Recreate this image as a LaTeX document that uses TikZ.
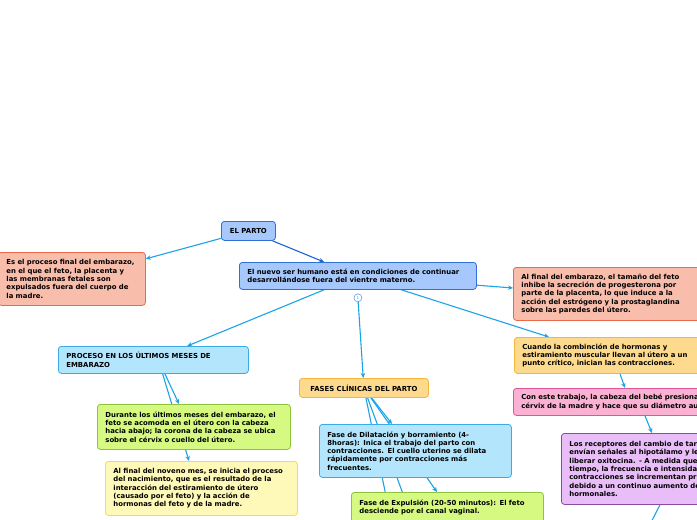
\documentclass[tikz,border=0pt]{standalone}
\usepackage{fontspec}
\newfontfamily\mapfont{DejaVu Sans}
\usepackage{tikz}
\usetikzlibrary{positioning, calc, shapes, arrows.meta, backgrounds}

\definecolor{bluefill}{HTML}{A6C8FC}
\definecolor{blueline}{HTML}{2F6FD6}
\definecolor{salmonfill}{HTML}{F9BDAB}
\definecolor{salmonline}{HTML}{E86A4A}
\definecolor{cyanfill}{HTML}{B3E5FC}
\definecolor{cyanline}{HTML}{3BABE8}
\definecolor{greenfill}{HTML}{D5F981}
\definecolor{greenline}{HTML}{8CC43C}
\definecolor{yellowfill}{HTML}{FFF9B9}
\definecolor{yellowline}{HTML}{F2DD4F}
\definecolor{orangefill}{HTML}{FDDA8E}
\definecolor{orangeline}{HTML}{F4B73E}
\definecolor{pinkfill}{HTML}{FBB1D3}
\definecolor{pinkline}{HTML}{E0559A}
\definecolor{purplefill}{HTML}{E9BEF8}
\definecolor{purpleline}{HTML}{8B4C9E}
\definecolor{linkblue}{HTML}{1AA3E8}
\definecolor{darklink}{HTML}{1864D6}

\tikzset{
  topic/.style={draw, rounded corners=3pt, line width=0.8pt, anchor=north west,
    align=left, inner xsep=8pt, inner ysep=2pt,
    font=\mapfont\bfseries\fontsize{6.9}{8.3}\selectfont},
  link/.style={draw=linkblue, line width=1.1pt, -{Stealth[length=5pt,width=4.5pt]}},
}

\begin{document}
\begin{tikzpicture}[x=1pt,y=-1pt]
\path[use as bounding box] (0,0) rectangle (697,520);
\clip (0,0) rectangle (697,520);

\node[topic, fill=bluefill, draw=blueline, minimum width=54pt, minimum height=19pt, align=center] (parto) at (221,221) {EL PARTO};
\node[topic, fill=salmonfill, draw=salmonline, text width=131pt, minimum height=53pt] (procdef) at (-2,252)
  {Es el proceso final del embarazo,\\ en el que el feto, la placenta y\\ las membranas fetales son\\ expulsados fuera del cuerpo de\\ la madre.};
\node[topic, fill=bluefill, draw=blueline, text width=221pt, minimum height=27pt] (nuevo) at (239,262)
  {El nuevo ser humano está en condiciones de continuar\\ desarrollándose fuera del vientre materno.};
\node[circle, draw=blueline!70, fill=white, line width=0.6pt, inner sep=0pt, minimum size=8pt,
  text=blueline!70, font=\mapfont\fontsize{4}{4}\selectfont] (fold) at ($(nuevo.south)+(0,8)$) {1};

\node[topic, fill=salmonfill, draw=salmonline, text width=230pt, minimum height=53pt] (finalemb) at (513,267)
  {Al final del embarazo, el tamaño del feto\\ inhibe la secreción de progesterona por\\ parte de la placenta, lo que induce a la\\ acción del estrógeno y la prostaglandina\\ sobre las paredes del útero.};
\node[topic, fill=orangefill, draw=orangeline, text width=230pt, minimum height=36pt] (cuando) at (514,337)
  {Cuando la combinción de hormonas y\\ estiramiento muscular llevan al útero a un\\ punto crítico, inician las contracciones.};
\node[topic, fill=pinkfill, draw=pinkline, text width=230pt, minimum height=27pt] (coneste) at (513,388)
  {Con este trabajo, la cabeza del bebé presiona\\ cérvix de la madre y hace que su diámetro au};
\node[topic, fill=purplefill, draw=purpleline, text width=230pt, minimum height=71pt] (receptores) at (561,433)
  {Los receptores del cambio de tar\\ envían señales al hipotálamo y le\\ liberar oxitocina. - A medida que\\ tiempo, la frecuencia e intensida\\ contracciones se incrementan pr\\ debido a un continuo aumento de\\ hormonales.};

\node[topic, fill=cyanfill, draw=cyanline, text width=174pt, minimum height=27pt] (proceso) at (58,346)
  {PROCESO EN LOS ÚLTIMOS MESES DE\\ EMBARAZO};
\node[topic, fill=greenfill, draw=greenline, text width=177pt, minimum height=45pt] (durante) at (97,404)
  {Durante los últimos meses del embarazo, el\\ feto se acomoda en el útero con la cabeza\\ hacia abajo; la corona de la cabeza se ubica\\ sobre el cérvix o cuello del útero.};
\node[topic, fill=yellowfill, draw=yellowline, text width=176pt, minimum height=54pt] (noveno) at (105,461)
  {Al final del noveno mes, se inicia el proceso\\ del nacimiento, que es el resultado de la\\ interacción del estiramiento de útero\\ (causado por el feto) y la acción de\\ hormonas del feto y de la madre.};

\node[topic, fill=orangefill, draw=orangeline, minimum width=129pt, minimum height=19pt, align=center] (fases) at (299,378) {FASES CLÍNICAS DEL PARTO};
\node[topic, fill=cyanfill, draw=cyanline, text width=176pt, minimum height=53pt] (dilatacion) at (319,424)
  {Fase de Dilatación y borramiento (4-\\ 8horas): Inica el trabajo del parto con\\ contracciones. El cuello uterino se dilata\\ rápidamente por contracciones más\\ frecuentes.};
\node[topic, fill=greenfill, draw=greenline, text width=176pt, minimum height=30pt] (expulsion) at (351,492)
  {Fase de Expulsión (20-50 minutos): El feto\\ desciende por el canal vaginal.};

\coordinate (belowrec) at (642,540);
\coordinate (belowfasesa) at (395,540);
\coordinate (belowfasesb) at (420,540);

% connectors behind the topics
\begin{scope}[on background layer]
\clip (0,0) rectangle (697,520);
\draw[link, draw=darklink] (parto) -- (nuevo);
\draw[link] (parto) -- (procdef);
\draw[link] (nuevo) -- (proceso);
\draw[link] (fold) -- (fases);
\draw[link] (nuevo) -- ([xshift=35pt]cuando.north west);
\draw[link] (nuevo) -- ([yshift=-21pt]finalemb.north west);
\draw[link] ([xshift=106pt]cuando.south west) -- ([xshift=112pt]coneste.north west);
\draw[link] ([xshift=132pt]coneste.south west) -- ([xshift=91pt]receptores.north west);
\draw[link] ([xshift=99pt]receptores.south west) -- (belowrec);
\draw[link] ([xshift=5pt]proceso.center) -- ([xshift=82pt]durante.north west);
\draw[link] ([xshift=5pt]proceso.center) -- ([xshift=84pt]noveno.north west);
\draw[link] (fases.center) -- ([xshift=73pt]dilatacion.north west);
\draw[link] (fases.center) -- ([xshift=86pt]expulsion.north west);
\draw[link] (fases.center) -- (belowfasesa);
\draw[link] (fases.center) -- (belowfasesb);
\end{scope}
\end{tikzpicture}
\end{document}
